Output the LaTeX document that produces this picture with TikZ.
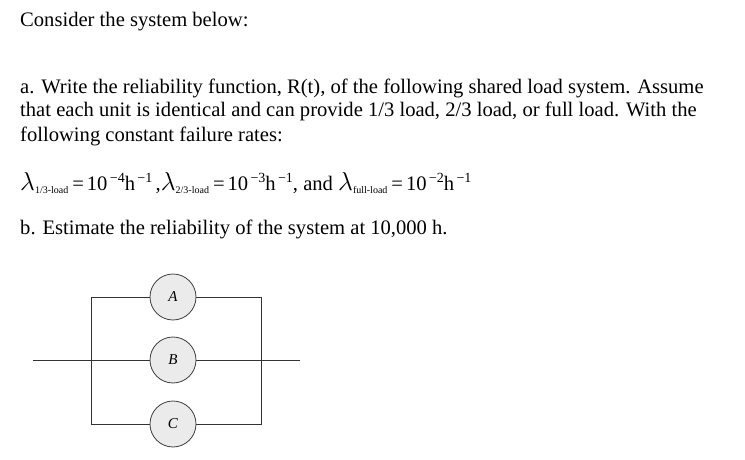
\documentclass[tikz,border=0pt]{standalone}
\usepackage{fontspec}
\setmainfont{Liberation Serif}
\newcommand{\sub}[1]{\raisebox{-3pt}{\fontsize{10}{12}\selectfont #1}}
\newcommand{\sups}[1]{\raisebox{8pt}{\fontsize{14}{15}\selectfont\,#1}}
\newcommand{\eqs}{\hspace{4pt}=\hspace{3pt}}
\newcommand{\lam}{\scalebox{1.25}{$\lambda$}}
\begin{document}
\begin{tikzpicture}[x=1pt,y=-1pt,
  txt/.style={anchor=base west,inner sep=0pt,font=\fontsize{20.6}{24}\selectfont},
  unit/.style={circle,draw=black!75,fill=black!8,line width=0.8pt,minimum size=46pt,inner sep=0pt,font=\itshape\fontsize{15}{16}\selectfont},
  wire/.style={draw=black!80,line width=0.8pt}]
\useasboundingbox (0,0) rectangle (745,460);
\node[txt] (t1) at (20,27) {Consider the system below:};
\node[txt] (t2) at (20,94) {a. Write the reliability function, R(t), of the following shared load system. Assume};
\node[txt] (t3) at (20,117) {that each unit is identical and can provide 1/3 load, 2/3 load, or full load. With the};
\node[txt] (t4) at (20,141) {following constant failure rates:};
\node[txt] (t5) at (20,190) {\lam\sub{1/3-load}\eqs 10\sups{−4}h\sups{−1}\,,\lam\sub{2/3-load}\eqs 10\sups{−3}h\sups{−1}, and \lam\sub{full-load}\eqs 10\sups{−2}h\sups{−1}};
\node[txt] (t6) at (20,234) {b. Estimate the reliability of the system at 10,000 h.};
\node[unit] (A) at (173,297) {A};
\node[unit] (B) at (173,360) {B};
\node[unit] (C) at (173,424) {C};
\coordinate (in) at (33,360);
\coordinate (out) at (300,360);
\coordinate (lt) at (91,297);
\coordinate (lb) at (91,424);
\coordinate (rt) at (261,297);
\coordinate (rb) at (261,424);
\draw[wire] (in) -- (B) -- (out);
\draw[wire] (A) -- (lt) -- (lb) -- (C);
\draw[wire] (A) -- (rt) -- (rb) -- (C);
\end{tikzpicture}
\end{document}
